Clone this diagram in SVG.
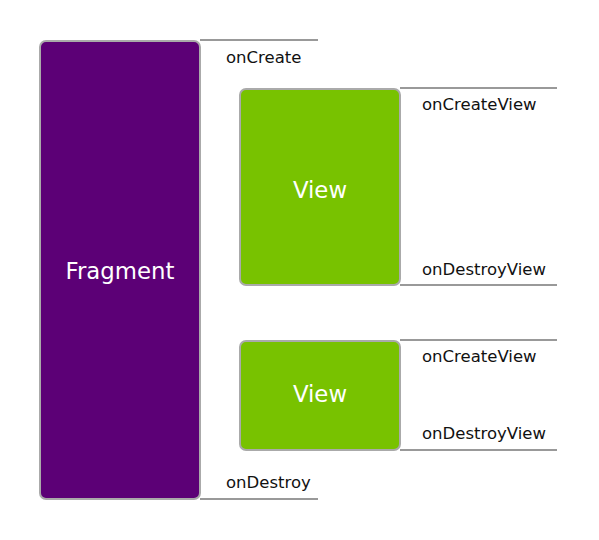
<svg xmlns="http://www.w3.org/2000/svg" width="599" height="540" viewBox="0 0 599 540">
<style>
.frag{fill:#5c0076;stroke:#aaaaaa;stroke-width:2}
.view{fill:#78c200;stroke:#aaaaaa;stroke-width:2}
.ln{stroke:#999999;stroke-width:2;fill:none}
.lbl{font-family:"DejaVu Sans","Open Sans",sans-serif;font-size:16.5px;fill:#111}
.big{font-family:"DejaVu Sans","Open Sans",sans-serif;font-size:22.8px;fill:#fff;text-anchor:middle}
</style>
<rect width="599" height="540" fill="#fff"/>
<g id="connectors">
<line class="ln" x1="200" y1="40" x2="318" y2="40"/>
<line class="ln" x1="200" y1="499" x2="318" y2="499"/>
<line class="ln" x1="400" y1="88" x2="557" y2="88"/>
<line class="ln" x1="400" y1="285" x2="557" y2="285"/>
<line class="ln" x1="400" y1="340" x2="557" y2="340"/>
<line class="ln" x1="400" y1="450" x2="557" y2="450"/>
</g>
<g id="fragment">
<rect class="frag" x="40" y="41" width="160" height="458" rx="6"/>
<text class="big" x="120" y="279">Fragment</text>
</g>
<g id="view1">
<rect class="view" x="240" y="89" width="160" height="196" rx="6"/>
<text class="big" x="320" y="198">View</text>
</g>
<g id="view2">
<rect class="view" x="240" y="341" width="160" height="109" rx="6"/>
<text class="big" x="320" y="402">View</text>
</g>
<g id="labels">
<text class="lbl" x="226" y="63">onCreate</text>
<text class="lbl" x="226" y="488">onDestroy</text>
<text class="lbl" x="422" y="110">onCreateView</text>
<text class="lbl" x="422" y="275">onDestroyView</text>
<text class="lbl" x="422" y="362">onCreateView</text>
<text class="lbl" x="422" y="439">onDestroyView</text>
</g>
</svg>
